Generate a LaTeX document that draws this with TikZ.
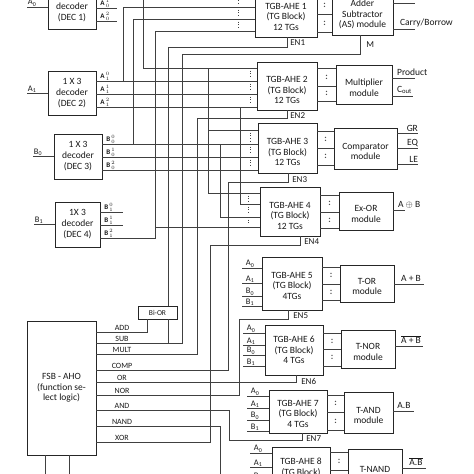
\documentclass[tikz,border=0pt]{standalone}
\usepackage{fontspec}
\setmainfont{Carlito}
\usetikzlibrary{calc}

\tikzset{
  blk/.style={draw=black!85, line width=0.75pt, inner sep=0pt, outer sep=0pt,
    anchor=north west, align=center, font=\fontsize{9.5}{11}\selectfont, text=black!90},
  blktxt/.style={align=center, inner sep=0pt, font=\fontsize{9.5}{10.5}\selectfont, text=black!90},
  pinlbl/.style={inner sep=0.6pt, font=\fontsize{8.5}{9}\selectfont, text=black!90},
  declbl/.style={inner sep=0pt, font=\fontsize{7}{7}\selectfont, text=black!90},
  sig/.style={inner sep=0.8pt, font=\fontsize{8}{9}\selectfont, text=black!90},
  outl/.style={inner sep=0.8pt, font=\fontsize{9.5}{10}\selectfont, text=black!90},
  enl/.style={inner sep=0pt, font=\fontsize{9}{10}\selectfont, text=black!90},
  colon/.style={inner sep=0pt, font=\fontsize{9}{9}\selectfont\bfseries, text=black!70},
  dotcol/.style={line width=0.9pt, dash pattern=on 0.9pt off 1.8pt},
}

\begin{document}
\begin{tikzpicture}[x=1pt, y=-1pt, color=black!75, line width=0.6pt]
\useasboundingbox (0,0) rectangle (474,474);
\fill[white] (0,0) rectangle (474,474);
\clip (0,0) rectangle (474,474);

% decoders
\node[blk, minimum width=48pt, minimum height=44pt] (dec1) at (48,-15) {1 X 3\\decoder\\(DEC 1)};
\node[blk, minimum width=48pt, minimum height=44pt] (dec2) at (48,71) {1 X 3\\decoder\\(DEC 2)};
\node[blk, minimum width=48pt, minimum height=45pt] (dec3) at (54,134) {1 X 3\\decoder\\(DEC 3)};
\node[blk, minimum width=45pt, minimum height=45pt] (dec4) at (55,202) {1X 3\\decoder\\(DEC 4)};

\foreach \dc/\s/\n in {dec1/A/0, dec2/A/1, dec3/B/0, dec4/B/1}{
  \draw (\dc.west) -- ++(-21,0) coordinate (in\s\n);
  \node[pinlbl, anchor=south west] (li\s\n) at (in\s\n) {\s\textsubscript{\n}};
  \foreach \k/\dy in {0/10, 1/23, 2/36}{
    \coordinate (\s\k\n) at ($(\dc.north east)+(0,\dy)$);
    \node[declbl, anchor=base west, xshift=4pt, yshift=2.6pt] (l\s\k\n) at (\s\k\n) {$\mathbf{\s}^{\,\k}_{\,\n}$};
  }
}

% TG blocks
\node[blk, minimum width=62pt, minimum height=49pt,
  label={[blktxt, yshift=-4pt]center:{TGB-AHE 1\\(TG Block)\\12 TGs}}] (tgb1) at (255,-12) {};
\node[blk, minimum width=60pt, minimum height=48pt,
  label={[blktxt, yshift=-4pt]center:{TGB-AHE 2\\(TG Block)\\12 TGs}}] (tgb2) at (257,62) {};
\node[blk, minimum width=59pt, minimum height=50pt,
  label={[blktxt, yshift=-4pt]center:{TGB-AHE 3\\(TG Block)\\12 TGs}}] (tgb3) at (258,123) {};
\node[blk, minimum width=60pt, minimum height=49pt,
  label={[blktxt, yshift=-4pt]center:{TGB-AHE 4\\(TG Block)\\12 TGs}}] (tgb4) at (260,187) {};
\node[blk, minimum width=60pt, minimum height=53pt,
  label={[blktxt, yshift=-2pt]center:{TGB-AHE 5\\(TG Block)\\4TGs}}] (tgb5) at (262,257) {};
\node[blk, minimum width=58pt, minimum height=50pt,
  label={[blktxt]center:{TGB-AHE 6\\(TG Block)\\4 TGs}}] (tgb6) at (265,325) {};
\node[blk, minimum width=58pt, minimum height=43pt,
  label={[blktxt, yshift=-2pt]center:{TGB-AHE 7\\(TG Block)\\4 TGs}}] (tgb7) at (269,390) {};
\node[blk, minimum width=58pt, minimum height=50pt,
  label={[blktxt]center:{TGB-AHE 8\\(TG Block)\\4 TGs}}] (tgb8) at (272,447) {};

% modules
\node[blk, minimum width=61pt, minimum height=47pt,
  label={[blktxt, yshift=-3pt]center:{Adder\\Subtractor\\(AS) module}}] (addsub) at (332,-12) {};
\node[blk, minimum width=56pt, minimum height=39pt,
  label={[blktxt, yshift=-3pt]center:{Multiplier\\module}}] (mult) at (336,65) {};
\node[blk, minimum width=63pt, minimum height=41pt,
  label={[blktxt, yshift=-3pt]center:{Comparator\\module}}] (comp) at (334,128) {};
\node[blk, minimum width=54pt, minimum height=38pt,
  label={[blktxt, yshift=-3pt]center:{Ex-OR\\module}}] (exor) at (339,192) {};
\node[blk, minimum width=54pt, minimum height=37pt,
  label={[blktxt, yshift=-3pt]center:{T-OR\\module}}] (tor) at (340,265) {};
\node[blk, minimum width=54pt, minimum height=38pt,
  label={[blktxt, yshift=-3pt]center:{T-NOR\\module}}] (tnor) at (341,330) {};
\node[blk, minimum width=49pt, minimum height=41pt,
  label={[blktxt, yshift=-3pt]center:{T-AND\\module}}] (tand) at (344,392) {};
\node[blk, minimum width=54pt, minimum height=45pt,
  label={[blktxt, yshift=-3pt]center:{T-NAND\\module}}] (tnand) at (348,449) {};

% function select logic
\node[blk, minimum width=69pt, minimum height=134pt, font=\fontsize{9.5}{10.5}\selectfont] (fsb) at (27,321) {FSB - AHO\\(function se-\\lect logic)};
\node[blk, minimum width=39pt, minimum height=13pt, font=\fontsize{7.5}{8}\selectfont] (bior) at (138,306) {Bi-OR};
\draw (fsb.south -| 45,0) -- ++(0,25);
\draw (fsb.south -| 69,0) -- ++(0,25);

\foreach \s/\y in {ADD/332, SUB/343, MULT/354, COMP/370, OR/382, NOR/395, AND/410, NAND/426, XOR/442}{
  \coordinate (f\s) at (fsb.east |- 0,\y);
  \node[sig, anchor=south] (l\s) at (122,\y) {\s};
}

% TG block inputs
\coordinate (t1a) at (tgb1.west |- 0,7);
\coordinate (t1b) at (tgb1.west |- 0,19);
\coordinate (t1c) at (tgb1.west |- 0,31);
\coordinate (t2a) at (tgb2.west |- 0,68);
\coordinate (t2b) at (tgb2.west |- 0,81);
\coordinate (t2c) at (tgb2.west |- 0,94);
\coordinate (t2d) at (tgb2.west |- 0,107);
\coordinate (t3a) at (tgb3.west |- 0,130);
\coordinate (t3b) at (tgb3.west |- 0,144);
\coordinate (t3c) at (tgb3.west |- 0,157);
\coordinate (t3d) at (tgb3.west |- 0,170);
\coordinate (t4a) at (tgb4.west |- 0,193);
\coordinate (t4b) at (tgb4.west |- 0,204);
\coordinate (t4c) at (tgb4.west |- 0,217);
\coordinate (t4d) at (tgb4.west |- 0,227);

% decoder lines
\draw (A01) -- (t2b);
\draw (A01 -| 123,0) |- (t1a);
\draw (A11) -- (t2c);
\draw (A21) -- (t2d);
\draw (A21 -| 240,0) |- (t4b);
\draw (A00) -| (143,68) -- (t2a);
\draw (t2a -| 208,0) |- (t4a);
\draw (t3a -| 208,0) -- (t3a);
\draw (B00) -- (t3b);
\draw (B00 -| 133,0) |- (t1b);
\draw (B00 -| 220,0) |- (t4c);
\draw (B10) -- (t3c);
\draw (B20) -- (t3d);
\draw (B21) -| (155,31) -- (t1c);
\draw (t4d -| 155,0) -- (t4d);
\draw (A10) -- ++(21,0);
\draw (A20) -- ++(21,0);
\draw (B01) -- ++(23,0);
\draw (B11) -- ++(23,0);

\foreach \x/\ya/\yb in {238/-5/7, 238/7/19, 238/19/31, 250/68/81, 250/81/94, 250/94/107,
    250/130/144, 250/144/157, 250/157/170, 248/193/204, 248/204/217, 248/217/227}
  \draw[dotcol] (\x,\ya+2.5) -- (\x,\yb-2.5);

% enable lines
\coordinate (e1) at ([xshift=32pt]tgb1.south west);
\coordinate (e2) at ([xshift=30pt]tgb2.south west);
\coordinate (e3) at ([xshift=30pt]tgb3.south west);
\coordinate (e4) at ([xshift=40pt]tgb4.south west);
\coordinate (e5) at ([xshift=26pt]tgb5.south west);
\coordinate (e6) at ([xshift=31pt]tgb6.south west);
\coordinate (e7) at ([xshift=33pt]tgb7.south west);
\coordinate (mpin) at ([xshift=28pt]addsub.south west);
\coordinate (jsub) at (fSUB -| 168,0);

\draw (fADD) -| ([xshift=9pt]bior.south west);
\draw (fSUB) -| (182,54) -| (mpin);
\draw (jsub) -- (jsub |- bior.south);
\draw (jsub |- bior.north) |- (e1 |- 0,47) -- (e1);
\draw (fMULT) -| (197,118) -| (e2);
\draw (fCOMP) -| (228,182) -| (e3);
\draw (fXOR) -| (210,245) -| (e4);
\draw (fNOR) -| (239,319) -| (e5);
\draw (fOR) -| (e6);
\draw (fAND) -| (229,440) -| (e7);
\draw (fNAND) -| (220,480);

\node[enl, anchor=west] (len1) at ($(e1)+(3,6)$) {EN1};
\node[enl, anchor=west] (len2) at ($(e2)+(3,6)$) {EN2};
\node[enl, anchor=west] (len3) at ($(e3)+(4,7)$) {EN3};
\node[enl, anchor=west] (len4) at ($(e4)+(4,6)$) {EN4};
\node[enl, anchor=west] (len5) at ($(e5)+(5,6)$) {EN5};
\node[enl, anchor=west] (len6) at ($(e6)+(5,6)$) {EN6};
\node[enl, anchor=west] (len7) at ($(e7)+(4,6)$) {EN7};
\node[enl, anchor=west] (lm) at ($(mpin)+(6,10)$) {M};

% 4 TG blocks inputs
\foreach \s/\y in {A\textsubscript{0}/268, A\textsubscript{1}/283, B\textsubscript{0}/296, B\textsubscript{1}/306}
  \draw (242,\y) -- (tgb5.west |- 0,\y) node[pinlbl, pos=0, anchor=south west, xshift=3pt] (i5-\y) {\s};
\foreach \s/\y in {A\textsubscript{0}/333, A\textsubscript{1}/345, B\textsubscript{0}/355, B\textsubscript{1}/366}
  \draw (243,\y) -- (tgb6.west |- 0,\y) node[pinlbl, pos=0, anchor=south west, xshift=3pt] (i6-\y) {\s};
\foreach \s/\y in {A\textsubscript{0}/396, A\textsubscript{1}/408, B\textsubscript{0}/420, B\textsubscript{1}/431}
  \draw (247,\y) -- (tgb7.west |- 0,\y) node[pinlbl, pos=0, anchor=south west, xshift=3pt] (i7-\y) {\s};
\foreach \s/\y in {A\textsubscript{0}/453, A\textsubscript{1}/467, B\textsubscript{0}/481}
  \draw (250,\y) -- (tgb8.west |- 0,\y) node[pinlbl, pos=0, anchor=south west, xshift=3pt] (i8-\y) {\s};

% block to module links
\foreach \tb/\m/\ya/\yb/\yc in {tgb1/addsub/-4/14/32, tgb2/mult/68/86/101, tgb3/comp/131/148/165,
    tgb4/exor/195/212/228, tgb5/tor/267/284/300, tgb6/tnor/333/349/366,
    tgb7/tand/395/412/430, tgb8/tnand/452/470/488}{
  \foreach \y in {\ya,\yb,\yc}
    \draw (\tb.east |- 0,\y) -- (\m.west |- 0,\y);
  \node[colon] (c\m1) at ($(\tb.east |- 0,\ya)!.5!(\m.west |- 0,\yb)$) {:};
  \node[colon] (c\m2) at ($(\tb.east |- 0,\yb)!.5!(\m.west |- 0,\yc)$) {:};
}

% outputs
\draw (addsub.east |- 0,3) -- ++(22,0);
\draw (addsub.east |- 0,29) -- ++(22,0);
\node[outl, anchor=south west] (lcb) at (399,28) {Carry/Borrow};
\draw (mult.east |- 0,78) -- ++(23,0);
\node[outl, anchor=south west] (lprod) at (396,77) {Product};
\draw (mult.east |- 0,96) -- ++(21,0);
\node[outl, anchor=south west] (lcout) at (396,95) {C\textsubscript{out}};
\foreach \s/\y in {GR/133, EQ/148, LE/164}{
  \draw (comp.east |- 0,\y) -- ++(21,0);
  \node[outl, anchor=south east] (l\s) at (419,\y) {\s};
}
\draw (exor.east |- 0,210) -- ++(12,0);
\node[outl, anchor=south west] (lexo) at (397,209) {A $\oplus$ B};
\draw (tor.east |- 0,284) -- ++(30,0);
\node[outl, anchor=south] (ltor) at (411,283) {A + B};
\draw (tnor.east |- 0,346) -- ++(28,0);
\node[outl, anchor=south] (ltnor) at (411,345) {$\overline{\mbox{A + B}}$};
\draw (tand.east |- 0,411) -- ++(21,0);
\node[outl, anchor=south] (ltand) at (404,410) {A.B};
\draw (tnand.east |- 0,468) -- ++(24,0);
\node[outl, anchor=south] (ltnand) at (416,467) {$\overline{\mbox{A.B}}$};

\end{tikzpicture}
\end{document}
